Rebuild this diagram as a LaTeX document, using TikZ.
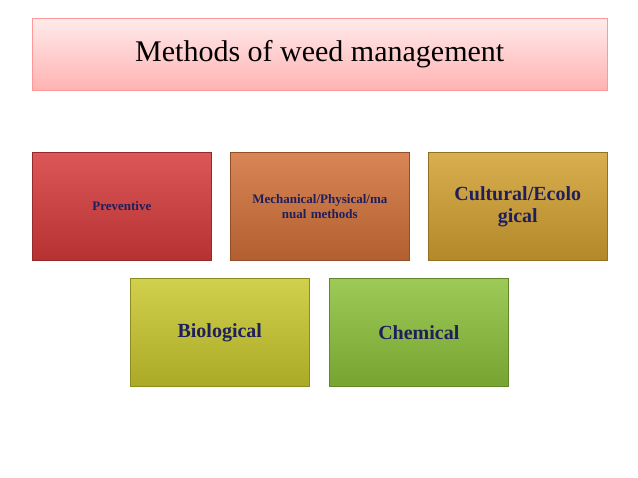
\documentclass[tikz,border=0pt]{standalone}
\usepackage{fontspec}
\setmainfont{Liberation Serif}
\definecolor{txt}{HTML}{1F1F5C}
\tikzset{box/.style={draw=#1!70!black,line width=0.6pt,top color=#1!85!white,bottom color=#1!85!black,minimum width=179pt,minimum height=108pt,anchor=north west,inner sep=0pt,align=center,text=txt,font=\bfseries,text width=172pt}}
\begin{document}
\begin{tikzpicture}[x=1pt,y=-1pt]
\useasboundingbox (0,0) rectangle (638,478);
\fill[white] (0,0) rectangle (638,478);
\node[draw=red!40!white,top color=red!8!white,bottom color=red!30!white,minimum width=575pt,minimum height=72pt,anchor=north west,font=\fontsize{30}{34}\selectfont,text=black] (title) at (32,18) {Methods of weed management};
\definecolor{c1}{HTML}{D63A3A}\definecolor{c2}{HTML}{D27038}\definecolor{c3}{HTML}{D2A030}\definecolor{c4}{HTML}{C8C82E}\definecolor{c5}{HTML}{8CC03A}
\node[box=c1,font=\bfseries\fontsize{13}{15}\selectfont] (p) at (32,152) {Preventive};
\node[box=c2,font=\bfseries\fontsize{13}{15}\selectfont] (m) at (230,152) {Mechanical/Physical/ma\\nual methods};
\node[box=c3,font=\bfseries\fontsize{20}{22}\selectfont] (c) at (428,152) {Cultural/Ecolo\\gical};
\node[box=c4,font=\bfseries\fontsize{20}{22}\selectfont] (b) at (130,278) {Biological};
\node[box=c5,font=\bfseries\fontsize{20}{22}\selectfont] (ch) at (329,278) {Chemical};
\end{tikzpicture}
\end{document}
